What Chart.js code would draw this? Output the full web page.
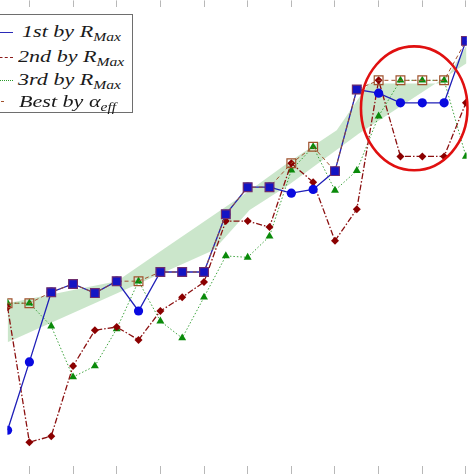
<!DOCTYPE html>
<html>
<head>
<meta charset="utf-8">
<script src="https://cdn.jsdelivr.net/npm/chart.js@4.4.1/dist/chart.umd.min.js"></script>
<style>
html,body{margin:0;padding:0;background:#fff;overflow:hidden;}
#wrap{position:relative;width:474px;height:474px;}
canvas{display:block;}
#legend{position:absolute;left:-12px;top:14px;width:145px;height:99px;border:1px solid #6e6e6e;background:#fff;box-sizing:border-box;font-family:"Liberation Serif",serif;font-style:italic;color:#1a1a1a;}
.row{position:absolute;left:32px;height:20px;line-height:20px;white-space:nowrap;font-size:17px;transform:scaleX(1.3);transform-origin:left center;}
.row sub{font-size:12px;vertical-align:-4px;line-height:0;}
.smp{position:absolute;left:0;width:24px;height:0;}
</style>
</head>
<body>
<div id="wrap">
<canvas id="c" width="474" height="474"></canvas>
<div id="legend">
  <div class="smp" style="top:17px;border-top:1.3px solid #2a2ab8;"></div>
  <div class="smp" style="top:42px;border-top:1.3px dashed #8b1a1a;"></div>
  <div class="smp" style="top:65px;border-top:1px dotted #2a9a2a;"></div>
  <div class="smp" style="top:86px;width:15px;border-top:1px dashed #a0522d;"></div>
  <div class="row" style="top:7px;left:33px;">1st by R<sub>Max</sub></div>
  <div class="row" style="top:32px;left:29px;">2nd by R<sub>Max</sub></div>
  <div class="row" style="top:55px;left:29px;">3rd by R<sub>Max</sub></div>
  <div class="row" style="top:77px;left:30px;">Best by α<sub>eff</sub></div>
</div>
</div>
<script>
// ---- data ----
const categories = [0,1,2,3,4,5,6,7,8,9,10,11,12,13,14,15,16,17,18,19,20,21];
const tickPositions = [1,3,5,7,9,11,13,15,17,19,21];
const first  = [7.8,22.7,37.9,39.7,37.7,40.3,33.8,42.3,42.3,42.3,54.9,60.8,60.8,59.5,60.3,64.3,82.1,81.3,79.2,79.2,79.2,92.7];
const second = [34.6,5.2,6.5,21.8,29.6,30.3,27.5,33.8,36.8,40.1,53.4,53.4,52.1,66.0,61.9,49.1,56.0,84.1,67.5,67.5,67.5,79.2];
const third  = [35.5,35.5,30.5,19.4,21.8,29.9,40.3,31.6,27.9,36.8,45.8,45.5,50.1,64.5,69.6,60.1,64.4,76.3,84.1,84.1,84.1,67.5];
const best   = [35.5,35.5,37.9,39.7,37.7,40.3,40.3,42.3,42.3,42.3,54.9,60.8,60.8,66.0,69.6,64.3,82.1,84.1,84.1,84.1,84.1,92.7];
// shaded band (upper and lower edges)
const bandUpperX = [0,5.01,7.09,11.09,12.86,15.08,16.55,19.97,21.03];
const bandUpperY = [35.5,40.3,47.1,60.1,66.2,73.2,83.4,83.4,91.7];
const bandLowerX = [0,9.45,11.09,12.86,16.10,21.03];
const bandLowerY = [27.0,47.1,55.8,61.2,72.5,87.8];
// highlighted region (ellipse) : centre x, centre y, radius x, radius y (data units)
const highlight = [18.63,78.0,2.44,13.5];

const pts = (xs, ys) => xs.map((x,i)=>({x:x,y:ys[i]}));
const same = best.map((v,i)=>v===first[i]);

const highlightPlugin = {
  id:'highlight',
  afterDatasetsDraw(chart){
    const xs = chart.scales.x, ys = chart.scales.y, ctx = chart.ctx;
    const cx = xs.getPixelForValue(highlight[0]);
    const cy = ys.getPixelForValue(highlight[1]);
    const rx = Math.abs(xs.getPixelForValue(highlight[0]+highlight[2]) - cx);
    const ry = Math.abs(ys.getPixelForValue(highlight[1]+highlight[3]) - cy);
    ctx.save();
    ctx.beginPath();
    ctx.ellipse(cx, cy, rx, ry, 0, 0, Math.PI*2);
    ctx.strokeStyle = '#e01010';
    ctx.lineWidth = 2.6;
    ctx.stroke();
    ctx.restore();
  }
};

const tickAxis = (pos, len) => ({
  type:'linear', position:pos, min:-0.0075, max:21.03, display:true,
  afterBuildTicks: s => { s.ticks = tickPositions.map(v=>({value:v})); },
  ticks:{display:false},
  grid:{drawOnChartArea:false, drawTicks:true, tickLength:len, color:'#b8b8b8', lineWidth:1},
  border:{display:false}
});

new Chart(document.getElementById('c'), {
  type:'line',
  data:{
    datasets:[
      {label:'Best by α_eff', data:pts(categories,best), order:0,
       borderColor:'#a0522d', borderWidth:1, borderDash:[4,3],
       pointStyle:'rect', pointRadius:6.2,
       pointBackgroundColor: same.map(s=> s ? '#1414c4' : 'rgba(0,0,0,0)'),
       pointBorderColor: same.map(s=> s ? '#6e2e6e' : '#a0522d'),
       pointBorderWidth:1.2, fill:false, tension:0},
      {label:'1st by R_Max', data:pts(categories,first), order:1,
       borderColor:'#2020b8', borderWidth:1.3,
       pointStyle:'circle', pointRadius:4.6, pointBackgroundColor:'#0a0ae0', pointBorderColor:'#0a0ae0', pointBorderWidth:0,
       fill:false, tension:0},
      {label:'2nd by R_Max', data:pts(categories,second), order:2,
       borderColor:'#8b1010', borderWidth:1.3, borderDash:[6,2,1.5,2],
       pointStyle:'rectRot', pointRadius:4, pointBackgroundColor:'#8b0000', pointBorderColor:'#8b0000', pointBorderWidth:0,
       fill:false, tension:0},
      {label:'3rd by R_Max', data:pts(categories,third), order:3,
       borderColor:'#2a9a2a', borderWidth:0.9, borderDash:[1.5,2],
       pointStyle:'triangle', pointRadius:4.6, pointBackgroundColor:'#0a8a0a', pointBorderColor:'#0a8a0a', pointBorderWidth:0,
       fill:false, tension:0},
      {label:'band upper', data:pts(bandUpperX,bandUpperY), order:4,
       borderWidth:0, pointRadius:0, fill:'+1', backgroundColor:'rgba(140,200,140,0.45)', tension:0},
      {label:'band lower', data:pts(bandLowerX,bandLowerY), order:5,
       borderWidth:0, pointRadius:0, fill:false, tension:0}
    ]
  },
  options:{
    responsive:false, animation:false, devicePixelRatio:1,
    layout:{padding:0},
    plugins:{legend:{display:false}, tooltip:{enabled:false}},
    scales:{
      x: tickAxis('bottom', 8),
      x2: tickAxis('top', 7),
      y:{type:'linear', min:0, max:100, display:false}
    }
  },
  plugins:[highlightPlugin]
});
</script>
</body>
</html>
